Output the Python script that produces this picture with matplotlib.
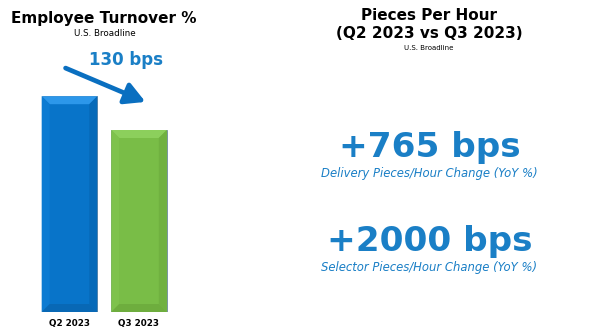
import matplotlib.pyplot as plt
from matplotlib.patches import Polygon, FancyArrowPatch

# turnover % (130 bps drop)
quarters = ["Q2 2023", "Q3 2023"]
turnover = [8.3, 7.0]
bar_colors = ["#0874c9", "#79bd47"]
change_label = "130 bps"

pph_values = ["+765 bps", "+2000 bps"]
pph_labels = ["Delivery Pieces/Hour Change (YoY %)",
              "Selector Pieces/Hour Change (YoY %)"]

# bevel shades per bar: top, left, right, bottom
bevels = [
    ["#2c97ea", "#0c7bd2", "#066ab9", "#0868b5"],
    ["#8ccf5c", "#7ec24c", "#70b140", "#6ead3e"],
]

W, H = 591, 330
fig = plt.figure(figsize=(W / 100, H / 100), dpi=100)

def fx(px):
    return px / W

def fy(py):
    return 1 - py / H

# bar chart panel
ax = fig.add_axes([fx(20), fy(312), fx(170), 260 / H])
x = list(range(len(quarters)))
bars = ax.bar(x, turnover, width=0.8, color=bar_colors, edgecolor="#6f8aa0", linewidth=0.6)
ax.set_xlim(-0.712, 1.734)
ax.set_ylim(0, 10)

# bevelled look, ~8 px border
bx, by = 8 / 69.5, 8 / 26.0
for b, sh in zip(bars, bevels):
    x0, y0 = b.get_x(), b.get_y()
    x1, y1 = x0 + b.get_width(), y0 + b.get_height()
    faces = [
        [(x0, y1), (x1, y1), (x1 - bx, y1 - by), (x0 + bx, y1 - by)],
        [(x0, y0), (x0, y1), (x0 + bx, y1 - by), (x0 + bx, y0 + by)],
        [(x1, y0), (x1, y1), (x1 - bx, y1 - by), (x1 - bx, y0 + by)],
        [(x0, y0), (x1, y0), (x1 - bx, y0 + by), (x0 + bx, y0 + by)],
    ]
    for pts, c in zip(faces, sh):
        ax.add_patch(Polygon(pts, closed=True, facecolor=c, edgecolor="none", zorder=3))

ax.set_xticks(x)
ax.set_xticklabels(quarters, fontsize=6.3, fontweight="bold")
ax.tick_params(length=0, pad=5)
ax.set_yticks([])
for s in ax.spines.values():
    s.set_visible(False)

blue = "#1a7fc6"
fig.text(fx(104), fy(19), "Employee Turnover %", ha="center", va="center",
         fontsize=11, fontweight="bold")
fig.text(fx(104.5), fy(33), "U.S. Broadline", ha="center", va="center", fontsize=6.3)
fig.text(fx(126), fy(60), change_label, ha="center", va="center",
         fontsize=12, fontweight="bold", color=blue)
fig.add_artist(FancyArrowPatch(
    (fx(63), fy(67)), (fx(148), fy(103)), transform=fig.transFigure,
    arrowstyle="-|>,head_length=5.5,head_width=3", mutation_scale=2.2,
    color="#0a6fc0", linewidth=3.4))

# pieces per hour panel
fig.text(fx(429), fy(15), "Pieces Per Hour", ha="center", va="center",
         fontsize=11, fontweight="bold")
fig.text(fx(429), fy(33), "(Q2 2023 vs Q3 2023)", ha="center", va="center",
         fontsize=11, fontweight="bold")
fig.text(fx(429), fy(48), "U.S. Broadline", ha="center", va="center", fontsize=5.0)

for val, lab, y in zip(pph_values, pph_labels, [148, 242]):
    fig.text(fx(430), fy(y), val, ha="center", va="center",
             fontsize=24.7, fontweight="bold", color=blue)
    fig.text(fx(429), fy(y + 26), lab, ha="center", va="center",
             fontsize=8.4, style="italic", color=blue)

fig.savefig("out.png", dpi=100)
